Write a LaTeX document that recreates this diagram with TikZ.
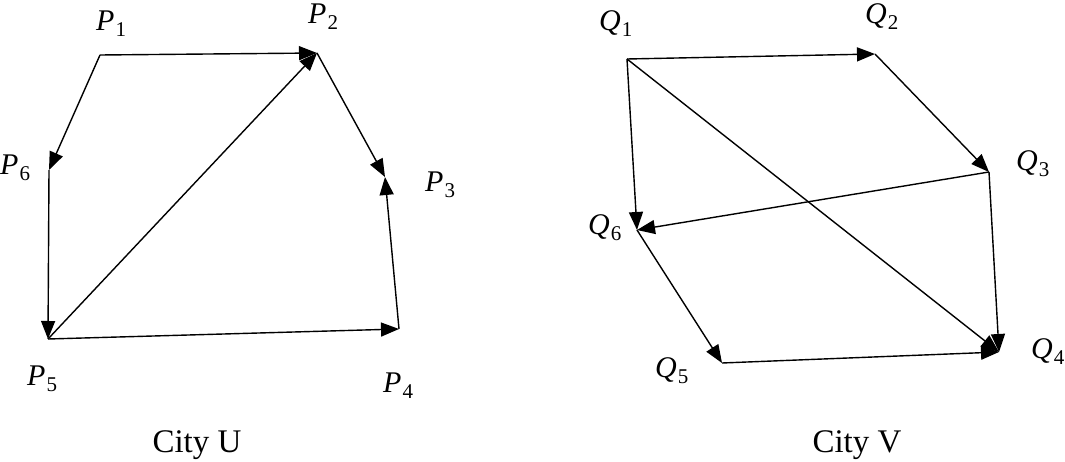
\documentclass[tikz,border=0pt]{standalone}
\usepackage{fontspec}
\setmainfont{Liberation Serif}
\usetikzlibrary{arrows.meta}
\newcommand{\vlab}[2]{{\itshape #1}\kern1pt\raisebox{-6pt}{\fontsize{21}{24}\selectfont #2}}
\tikzset{
  edge/.style={line width=1.4pt,-{Triangle[length=18pt,width=14pt]}},
  vlabel/.style={font=\fontsize{30}{34}\selectfont,inner sep=0pt,anchor=base west},
  caption/.style={font=\fontsize{33}{40}\selectfont,inner sep=0pt,anchor=base}
}
\begin{document}
\begin{tikzpicture}[x=1pt,y=-1pt]
\useasboundingbox (0,0) rectangle (1065,462);
% City U vertices
\coordinate (P1) at (100,55);
\coordinate (P2) at (317,53);
\coordinate (P3) at (385,177);
\coordinate (P4) at (399,329);
\coordinate (P5) at (48,339);
\coordinate (P6) at (49,170);
% labels
\node[vlabel] (lP1) at (96,31) {\vlab{P}{1}};
\node[vlabel] (lP2) at (308,24) {\vlab{P}{2}};
\node[vlabel] (lP3) at (425,192) {\vlab{P}{3}};
\node[vlabel] (lP4) at (383,392) {\vlab{P}{4}};
\node[vlabel] (lP5) at (27,385) {\vlab{P}{5}};
\node[vlabel] (lP6) at (0,175) {\vlab{P}{6}};
\node[caption] (cU) at (197,452) {City U};
% edges
\draw[edge] (P1) -- (P2);
\draw[edge] (P1) -- (P6);
\draw[edge] (P6) -- (P5);
\draw[edge] (P5) -- (P2);
\draw[edge] (P5) -- (P4);
\draw[edge] (P4) -- (P3);
\draw[edge] (P2) -- (P3);
% City V vertices
\coordinate (Q1) at (627,59);
\coordinate (Q2) at (875,54);
\coordinate (Q3) at (989,172);
\coordinate (Q4) at (999,352);
\coordinate (Q5) at (722,363);
\coordinate (Q6) at (637,230);
\node[vlabel] (lQ1) at (599,31) {\vlab{Q}{1}};
\node[vlabel] (lQ2) at (865,24) {\vlab{Q}{2}};
\node[vlabel] (lQ3) at (1016,171) {\vlab{Q}{3}};
\node[vlabel] (lQ4) at (1031,358) {\vlab{Q}{4}};
\node[vlabel] (lQ5) at (655,377) {\vlab{Q}{5}};
\node[vlabel] (lQ6) at (588,235) {\vlab{Q}{6}};
\node[caption] (cV) at (857,452) {City V};
\draw[edge] (Q1) -- (Q2);
\draw[edge] (Q2) -- (Q3);
\draw[edge] (Q3) -- (Q6);
\draw[edge] (Q1) -- (Q6);
\draw[edge] (Q1) -- (Q4);
\draw[edge] (Q3) -- (Q4);
\draw[edge] (Q6) -- (Q5);
\draw[edge] (Q5) -- (Q4);
\end{tikzpicture}
\end{document}
